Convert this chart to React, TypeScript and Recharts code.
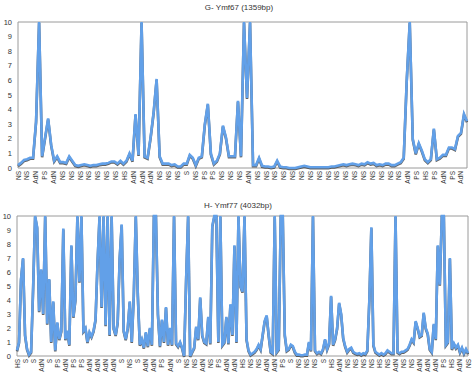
import { Line, LineChart, ReferenceArea, XAxis, YAxis } from 'recharts';

const topTitle = 'G- Ymf67 (1359bp)';
const bottomTitle = 'H- Ymf77 (4032bp)';

// relative values along Ymf67
const topValues = [
    0.2, 0.35, 0.55, 0.6, 0.7, 0.7, 3.2, 10, 0.8, 2.1,
    3.4, 1.6, 0.5, 0.8, 0.4, 0.4, 0.35, 0.8, 0.5, 0.2,
    0.15, 0.2, 0.25, 0.2, 0.15, 0.2, 0.2, 0.25, 0.3, 0.3,
    0.35, 0.45, 0.45, 0.3, 0.5, 0.3, 0.5, 1.0, 0.5, 3.7,
    0.9, 10, 0.8, 0.7, 2.1, 3.8, 6.1, 0.8, 0.3, 0.3,
    0.3, 0.2, 0.25, 0.1, 0.1, 0.3, 0.3, 0.9, 0.7, 0.2,
    0.7, 0.8, 3.0, 4.4, 1.0, 0.3, 0.5, 1.0, 2.9, 2.1,
    0.8, 0.8, 0.8, 4.6, 0.8, 10, 4.8, 10, 0.2, 0.2,
    0.7, 0.15, 0.1, 0.1, 0.05, 0.1, 0.5, 0.1, 0.05, 0.05,
    0, 0, 0, 0.05, 0.1, 0.15, 0.1, 0.05, 0.05, 0.05,
    0.05, 0.05, 0.05, 0.05, 0.1, 0.1, 0.15, 0.2, 0.25, 0.2,
    0.25, 0.3, 0.25, 0.2, 0.3, 0.25, 0.4, 0.3, 0.35, 0.2,
    0.25, 0.2, 0.3, 0.3, 0.2, 0.2, 0.3, 0.4, 0.7, 6.0,
    10, 2.0, 1.0, 1.7, 1.2, 0.6, 0.4, 0.6, 2.7, 0.6,
    0.7, 0.9, 0.9, 1.4, 1.4, 1.3, 2.2, 2.4, 3.7, 3.2,
];

const topLabels = [
    'NS', 'NS', 'AdN', 'PS', 'AdN', 'NS', 'NS', 'NS', 'NS', 'NS',
    'NS', 'NS', 'HS', 'AdN', 'AdN', 'AdN', 'NS', 'NS', 'NS', 'S',
    'NS', 'PS', 'PS', 'NS', 'NS', 'NS', 'AdN', 'NS', 'NS', 'NS',
    'NS', 'NS', 'NS', 'NS', 'NS', 'NS', 'NS', 'NS', 'NS', 'NS',
    'NS', 'NS', 'NS', 'NS', 'AdN', 'PS', 'HS', 'PS', 'AdN', 'PS',
    'AdN',
];

// relative values along Ymf77
const bottomValues = [
    0.4, 1.0, 5.5, 7.0, 1.5, 0.5, 0.1, 0.3, 4.8, 10,
    9.2, 3.2, 6.2, 3.0, 10, 2.3, 5.5, 1.0, 3.9, 0.4,
    2.4, 1.2, 1.8, 9.1, 1.2, 1.8, 0.8, 7.9, 2.8, 4.0,
    10, 5.3, 10, 1.8, 2.0, 1.0, 1.7, 1.4, 1.8, 2.6,
    6.7, 10, 3.5, 10, 2.2, 10, 1.5, 10, 2.0, 1.5,
    2.4, 7.0, 9.4, 1.8, 1.2, 2.0, 3.9, 1.0, 4.3, 10,
    4.4, 0.8, 1.2, 0.6, 1.7, 0.7, 2.0, 0.8, 10, 10,
    3.0, 0.7, 2.6, 1.0, 3.5, 0.8, 2.0, 0.8, 10, 0.9,
    0.7, 1.0, 0.6, 0.0, 5.5, 10, 0.0, 0.3, 0.6, 2.1,
    1.2, 4.2, 1.5, 1.0, 0.9, 2.8, 0.9, 9.3, 10, 10,
    1.0, 10, 0.8, 1.0, 2.8, 0.9, 3.7, 1.5, 7.9, 1.0,
    10, 5.0, 4.6, 10, 1.2, 0.4, 0.1, 0.2, 0.3, 0.5,
    0.8, 0.5, 1.5, 2.5, 2.9, 1.5, 0.3, 0.2, 10, 0.3,
    0.5, 10, 10, 1.5, 0.4, 0.5, 0.8, 0.7, 0.3, 0.1,
    0.1, 0.05, 0.05, 0.1, 0.1, 1.0, 0.4, 10, 0.4, 0.2,
    0.3, 0.2, 0.5, 1.2, 0.5, 0.9, 4.3, 0.8, 1.2, 2.0,
    3.8, 3.0, 1.3, 0.7, 0.3, 0.5, 0.6, 0.3, 0.2, 0.15,
    0.2, 0.1, 0.2, 0.15, 0.4, 4.0, 9.2, 0.8, 0.3, 0.2,
    0.1, 0.2, 0.1, 0.2, 0.4, 0.3, 0.2, 0.2, 10, 0.3,
    0.2, 0.3, 0.3, 0.4, 0.5, 0.8, 1.2, 1.0, 2.5, 2.0,
    1.4, 1.5, 3.1, 2.0, 1.6, 0.5, 0.3, 2.3, 1.2, 7.9,
    5.1, 10, 10, 0.8, 1.0, 7.0, 0.5, 0.9, 0.6, 0.8,
    0.3, 0.6, 0.2, 0.5, 0.2,
];

const bottomLabels = [
    'HS', 'S', 'S', 'AdN', 'S', 'PS', 'AdN', 'PS', 'PS', 'AdN',
    'AdN', 'AdN', 'AdN', 'S', 'NS', 'S', 'AdN', 'AdN', 'PS', 'AdN',
    'S', 'NS', 'NS', 'AdN', 'NS', 'PS', 'AdN', 'AdN', 'HS', 'NS',
    'NS', 'AdN', 'AdN', 'PS', 'S', 'NS', 'NS', 'NS', 'S', 'HS',
    'AdN', 'NS', 'NS', 'NS', 'NS', 'HS', 'NS', 'AdN', 'NS', 'NS',
    'AdN', 'AdN', 'AdN', 'PS', 'HS', 'AdN', 'NS',
];

const yTicks = [0, 1, 2, 3, 4, 5, 6, 7, 8, 9, 10];

const TOP_STEP = 2.94; // points between two labels
const BOTTOM_STEP = 4;

const topTicks = topLabels.map((_, k) => k * TOP_STEP);
const bottomTicks = bottomLabels.map((_, k) => k * BOTTOM_STEP);

const topData = topValues.map((v, i) => ({ i, v }));
const bottomData = bottomValues.map((v, i) => ({ i, v }));

const FONT = '"Liberation Sans", Arial, sans-serif';
const BLUE = '#62a0e8';

function rotatedTick(labels: string[], step: number) {
    return (props: any) => {
        const { x, y, payload } = props;
        const label = labels[Math.round(payload.value / step)];
        return (
            <text
                x={x}
                y={y}
                transform={`rotate(-90 ${x} ${y})`}
                textAnchor="end"
                dominantBaseline="central"
                fontSize={6.5}
                fontFamily={FONT}
                fill="#333"
            >
                {label}
            </text>
        );
    };
}

type PanelProps = {
    data: { i: number; v: number }[];
    ticks: number[];
    labels: string[];
    step: number;
    width: number;
    height: number;
    margin: { top: number; right: number; bottom: number; left: number };
    yWidth: number;
    xHeight: number;
};

function Panel({ data, ticks, labels, step, width, height, margin, yWidth, xHeight }: PanelProps) {
    const last = data.length - 1;
    return (
        <LineChart width={width} height={height} data={data} margin={margin}>
            <XAxis
                dataKey="i"
                type="number"
                domain={[0, last]}
                ticks={ticks}
                interval={0}
                axisLine={false}
                tickLine={false}
                tickSize={3}
                tickMargin={0}
                height={xHeight}
                tick={rotatedTick(labels, step)}
            />
            <YAxis
                domain={[0, 10]}
                ticks={yTicks}
                interval={0}
                width={yWidth}
                axisLine={false}
                tickLine={false}
                tickSize={4}
                tickMargin={2}
                tick={{ fontSize: 7.5, fill: '#333', fontFamily: FONT }}
            />
            <ReferenceArea x1={0} x2={last} y1={0} y2={10} fill="none" stroke="#9a9a9a" strokeWidth={1} ifOverflow="visible" />
            <Line
                className="shadow-line"
                type="linear"
                dataKey="v"
                stroke={BLUE}
                strokeWidth={2.6}
                dot={false}
                isAnimationActive={false}
            />
        </LineChart>
    );
}

export default function App() {
    return (
        <div style={{ position: 'absolute', left: 0, top: 0, width: 474, height: 382, background: '#fff', fontFamily: FONT }}>
            <style>{`.shadow-line path { filter: drop-shadow(0px 1px 0px rgba(60,60,60,0.8)); }`}</style>
            <div style={{ position: 'absolute', left: 0, top: 3, width: 474, textAlign: 'center', fontSize: 8, color: '#333', paddingLeft: 4, boxSizing: 'border-box' }}>
                {topTitle}
            </div>
            <div style={{ position: 'absolute', left: 0, top: 0 }}>
                <Panel
                    data={topData}
                    ticks={topTicks}
                    labels={topLabels}
                    step={TOP_STEP}
                    width={474}
                    height={195}
                    margin={{ top: 22, right: 7, bottom: 0, left: 0 }}
                    yWidth={18}
                    xHeight={27}
                />
            </div>
            <div style={{ position: 'absolute', left: 0, top: 201, width: 474, textAlign: 'center', fontSize: 8, color: '#333', paddingLeft: 2, boxSizing: 'border-box' }}>
                {bottomTitle}
            </div>
            <div style={{ position: 'absolute', left: 0, top: 195 }}>
                <Panel
                    data={bottomData}
                    ticks={bottomTicks}
                    labels={bottomLabels}
                    step={BOTTOM_STEP}
                    width={474}
                    height={187}
                    margin={{ top: 21, right: 6, bottom: 0, left: 0 }}
                    yWidth={17}
                    xHeight={26}
                />
            </div>
        </div>
    );
}
